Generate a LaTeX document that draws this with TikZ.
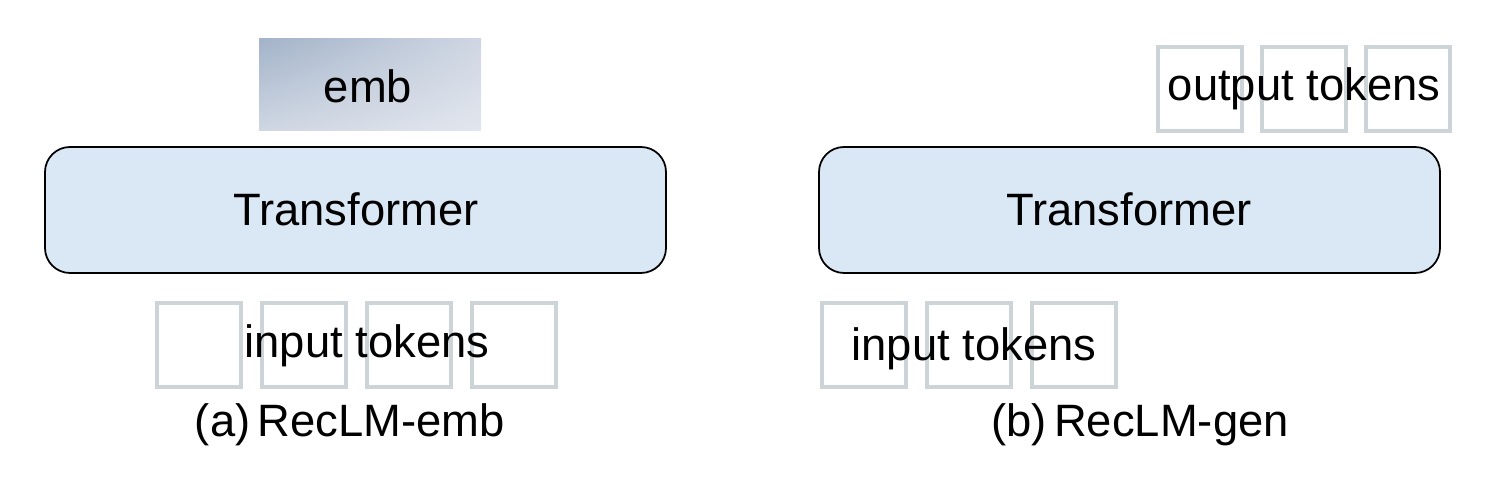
\documentclass[tikz,border=0pt]{standalone}
\usepackage{fontspec}
\usetikzlibrary{shadings}
\setmainfont{Liberation Sans}
\definecolor{tokgray}{HTML}{CCD4D8}
\definecolor{transblue}{HTML}{DAE8F5}
\definecolor{embdark}{HTML}{A3B3C9}
\definecolor{emblight}{HTML}{E2E6EE}
\begin{document}
\begin{tikzpicture}[x=0.01cm,y=-0.01cm,
  tok/.style={draw=tokgray,line width=1.3pt},
  trans/.style={draw=black,line width=0.5pt,fill=transblue,rounded corners=0.25cm},
  lbl/.style={font=\fontsize{12.9}{15}\selectfont,inner sep=0pt}]
\useasboundingbox (0,0) rectangle (1512,486);
% (a)
\shade[upper left=embdark,lower right=emblight,upper right=emblight!70!embdark,lower left=emblight!70!embdark] (259,39) rectangle (481,131);
\node[lbl] (emb) at (368,86) {emb};
\draw[trans] (45,147) rectangle (666,273);
\node[lbl] (ta) at (356,209) {Transformer};
\foreach \x in {157,262,367,472}{\draw[tok] (\x,303) rectangle ++(84,84);}
\node[lbl] (ina) at (367,346) {input tokens};
\node[lbl] (capa) at (350,425) {(a)\,RecLM-emb};
% (b)
\foreach \x in {1158,1262,1366}{\draw[tok] (\x,47) rectangle ++(84,84);}
\node[lbl] (outb) at (1304,89) {output tokens};
\draw[trans] (819,147) rectangle (1440,273);
\node[lbl] (tb) at (1129,209) {Transformer};
\foreach \x in {822,927,1032}{\draw[tok] (\x,303) rectangle ++(84,84);}
\node[lbl] (inb) at (974,349) {input tokens};
\node[lbl] (capb) at (1140,425) {(b)\,RecLM-gen};
\end{tikzpicture}
\end{document}
